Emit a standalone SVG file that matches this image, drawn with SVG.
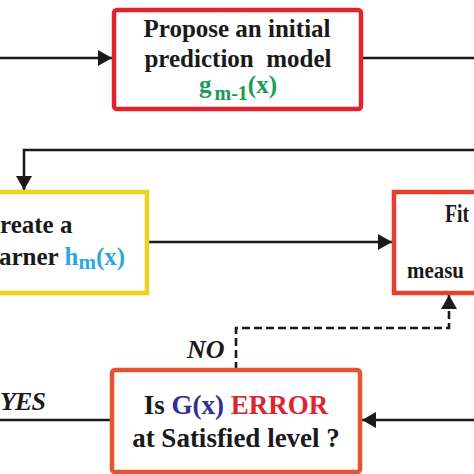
<svg xmlns="http://www.w3.org/2000/svg" width="474" height="474" viewBox="0 0 474 474">
<style>
.box{fill:#fff;stroke-width:4.5}
.t{font-family:"Times New Roman",Tinos,"Liberation Serif","DejaVu Serif","Noto Serif",serif;font-weight:bold;fill:#1a1a1a}
.c{stroke:#1a1a1a;stroke-width:2.6;fill:none}
.d{stroke-dasharray:8 4}
.lab{font-family:"Times New Roman",Tinos,"Liberation Serif","DejaVu Serif","Noto Serif",serif;font-weight:bold;font-style:italic;font-size:26px;fill:#1a1a1a}
</style>
<defs>
<marker id="ah" markerUnits="userSpaceOnUse" markerWidth="16" markerHeight="18" refX="14" refY="8" orient="auto" viewBox="0 0 16 18">
<path d="M0,0 L14,8 L0,16 z" fill="#1a1a1a"/>
</marker>
</defs>
<rect width="474" height="474" fill="#fff"/>
<g id="connectors">
<path class="c" d="M0,58 H112" marker-end="url(#ah)"/>
<path class="c" d="M361,58 H474"/>
<path class="c" d="M474,150 H24 V190" marker-end="url(#ah)"/>
<path class="c" d="M147,242 H392" marker-end="url(#ah)"/>
<path class="c d" d="M236,370 V328 H449 V306"/>
<path class="c" d="M449,308 V295" marker-end="url(#ah)"/>
<path class="c" d="M474,420 H362" marker-end="url(#ah)"/>
<path class="c" d="M112,420 H0"/>
</g>
<g id="labels">
<text class="lab" x="187" y="358">NO</text>
<text class="lab" x="0" y="410" textLength="46">YES</text>
</g>
<g id="node-propose">
<rect class="box" x="114" y="10" width="247" height="99" rx="3" stroke="#e0232d"/>
<text class="t" x="237" y="37" font-size="25" text-anchor="middle">Propose an initial</text>
<text class="t" x="238" y="67" font-size="25" text-anchor="middle" xml:space="preserve">prediction  model</text>
<text class="t" x="199" y="93" font-size="25" style="fill:#1b9a58">g<tspan font-size="20" dx="3" dy="7">m-1</tspan><tspan dy="-7">(x)</tspan></text>
</g>
<g id="node-create">
<rect class="box" x="-10" y="192" width="157" height="101" stroke="#efd21e"/>
<text class="t" x="0" y="233" font-size="25">reate a</text>
<text class="t" x="-1" y="265" font-size="25">arner <tspan style="fill:#2aa8de">h<tspan font-size="21" dy="4">m</tspan><tspan dy="-4">(x)</tspan></tspan></text>
</g>
<g id="node-fit">
<rect class="box" x="394" y="192" width="100" height="101" stroke="#e4402b"/>
<text class="t" x="445" y="222" font-size="25" textLength="24" lengthAdjust="spacingAndGlyphs">Fit</text>
<text class="t" x="407" y="278" font-size="24" textLength="57" lengthAdjust="spacingAndGlyphs">measu</text>
</g>
<g id="node-error">
<rect class="box" x="112" y="370" width="248" height="102" rx="3" stroke="#e8532f"/>
<text class="t" x="236" y="414" font-size="27" text-anchor="middle">Is <tspan style="fill:#2e3192">G(x)</tspan> <tspan style="fill:#db2530">ERROR</tspan></text>
<text class="t" x="236" y="447" font-size="27" text-anchor="middle">at Satisfied level ?</text>
</g>
</svg>
